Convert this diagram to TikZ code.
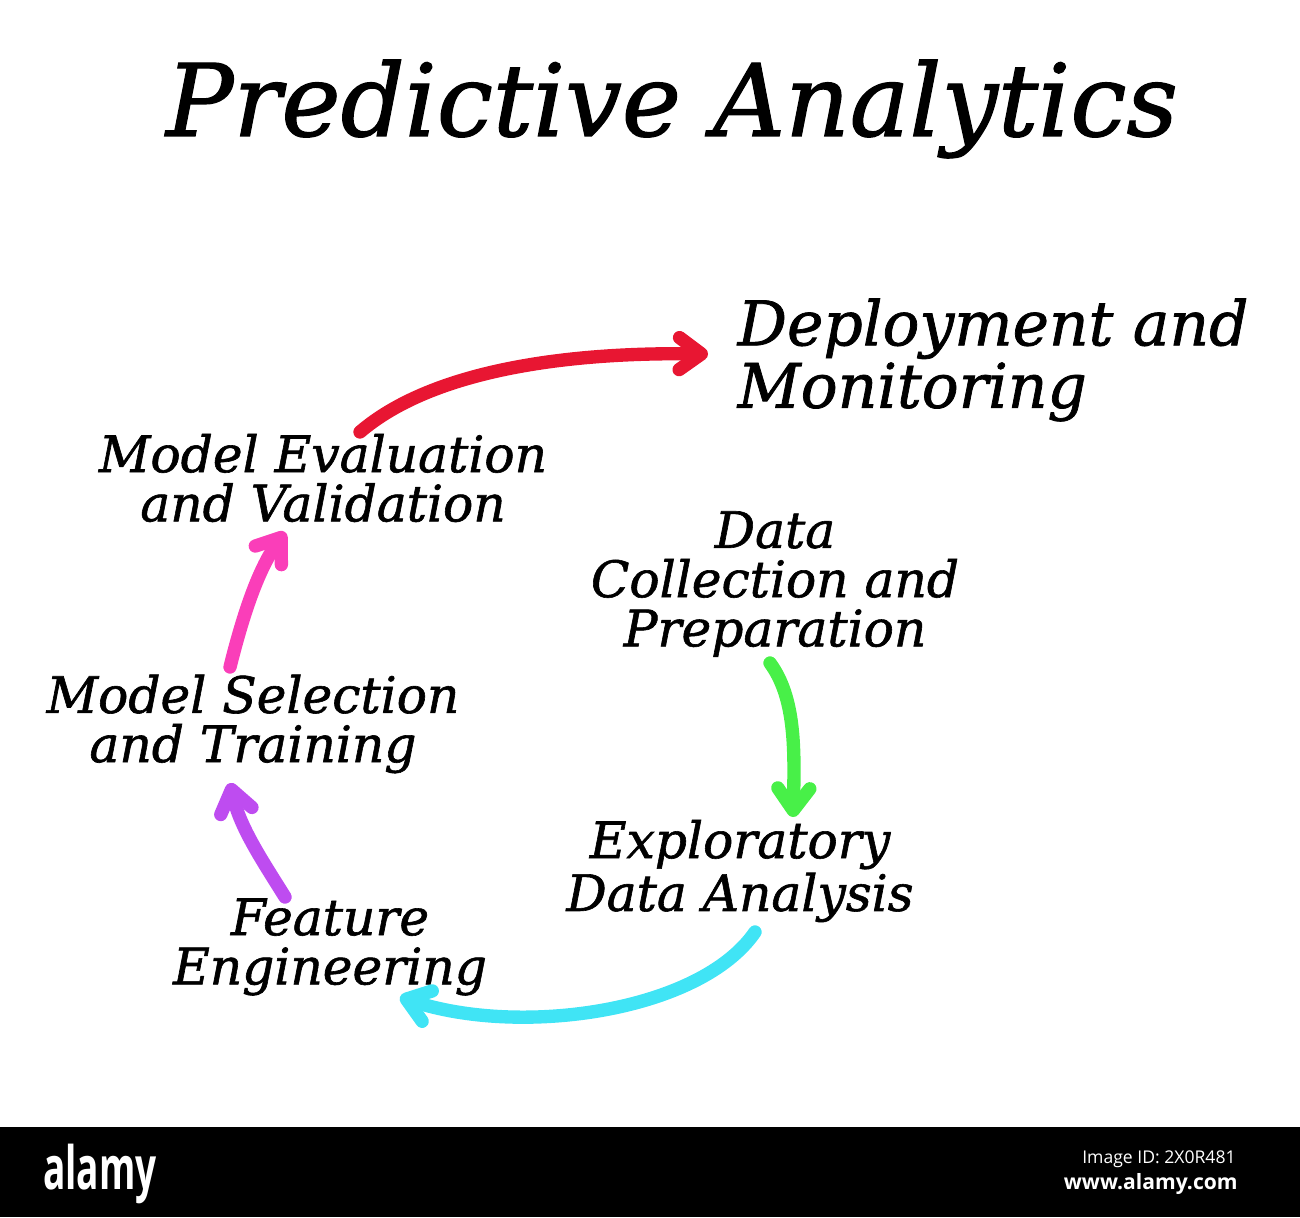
\documentclass[tikz,border=0pt]{standalone}
\usepackage{fontspec}
\setmainfont{DejaVu Serif}[ItalicFeatures={FakeBold=1.2}]
\newfontfamily\bannerfont{Open Sans}
\usetikzlibrary{arrows.meta}

\definecolor{arrowred}{RGB}{232,22,50}
\definecolor{arrowpink}{RGB}{250,62,185}
\definecolor{arrowgreen}{RGB}{72,240,72}
\definecolor{arrowcyan}{RGB}{64,228,245}
\definecolor{arrowpurple}{RGB}{190,76,240}

\begin{document}
\begin{tikzpicture}[
    stage/.style={font=\itshape\fontsize{14.3}{14}\selectfont, align=center, inner sep=0pt},
    flow/.style={line width=3.8pt, line cap=round,
      -{Straight Barb[length=2.2mm,width=3.2mm,round]}}
  ]

    \useasboundingbox (0,0) rectangle (13,12.17);

    % title
    \node (title) at (6.72,11.08) {\itshape\fontsize{28.5}{28}\selectfont Predictive Analytics};

    % stages
    \node[stage, align=left, anchor=west, font=\itshape\fontsize{17.5}{16.6}\selectfont]
      (deploy) at (7.37,8.57) {Deployment and\\Monitoring};
    \node[stage] (eval) at (3.23,7.39) {Model Evaluation\\and Validation};
    \node[stage] (collect) at (7.75,6.33) {Data\\Collection and\\Preparation};
    \node[stage] (select) at (2.53,4.93) {Model Selection\\and Training};
    \node[stage] (explore) at (7.40,3.46) {Exploratory\\Data Analysis};
    \node[stage] (feature) at (3.30,2.70) {Feature\\Engineering};

    % arrow ends
    \coordinate (redA) at (3.60,7.85);
    \coordinate (redB) at (7.08,8.63);
    \coordinate (greenA) at (7.70,5.54);
    \coordinate (greenB) at (7.93,4.00);
    \coordinate (cyanA) at (7.55,2.85);
    \coordinate (cyanB) at (4.00,2.20);
    \coordinate (purpleA) at (2.85,3.20);
    \coordinate (purpleB) at (2.30,4.34);
    \coordinate (pinkA) at (2.30,5.50);
    \coordinate (pinkB) at (2.85,6.85);

    % draw arrows
    \draw[flow, arrowgreen] (greenA) .. controls (7.95,5.20) and (7.95,4.70) .. (greenB);
    \draw[flow, arrowcyan] (cyanA) .. controls (7.00,2.05) and (5.20,1.80) .. (cyanB);
    \draw[flow, arrowpurple] (purpleA) .. controls (2.60,3.60) and (2.40,3.90) .. (purpleB);
    \draw[flow, arrowpink] (pinkA) .. controls (2.45,6.10) and (2.60,6.50) .. (pinkB);
    \draw[flow, arrowred] (redA) .. controls (4.30,8.45) and (5.60,8.65) .. (redB);

    % banner
    \fill[black] (0,0) rectangle (13,0.90);
    \node[white, font=\bannerfont\bfseries\fontsize{17}{17}\selectfont] (logo) at (1.00,0.43)
      {\scalebox{0.62}[1]{alamy}};
    \node[white, anchor=east, font=\bannerfont\fontsize{5}{5}\selectfont] (imageid) at (12.48,0.58)
      {Image ID: 2X0R481};
    \node[white, anchor=east, font=\bannerfont\bfseries\fontsize{6}{6}\selectfont] (site) at (12.50,0.33)
      {www.alamy.com};

\end{tikzpicture}
\end{document}
